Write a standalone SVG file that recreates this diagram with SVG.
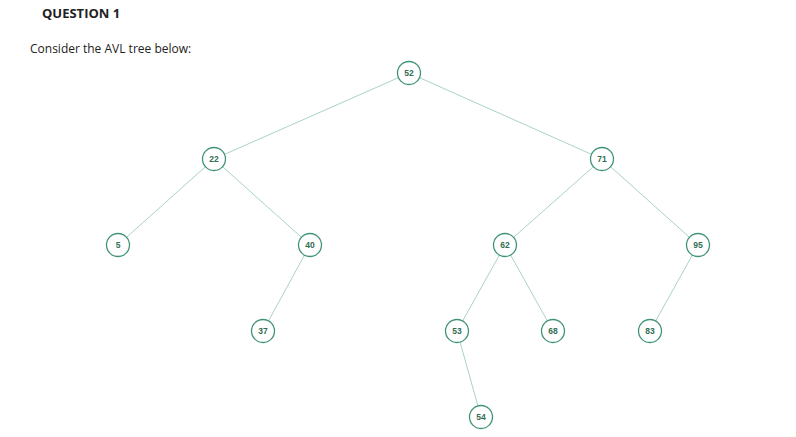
<svg xmlns="http://www.w3.org/2000/svg" width="796" height="437" viewBox="0 0 796 437">
<style>
.t{font-family:"Open Sans","Liberation Sans",sans-serif;fill:#222}
.n circle{fill:#fff;stroke:#3f9473;stroke-width:1.3}
.n text{font-family:"Liberation Sans",Arial,sans-serif;font-size:8.5px;font-weight:bold;fill:#2f6e52;text-anchor:middle;dominant-baseline:central}
#edges line{stroke:#a9d3c2;stroke-width:1}
</style>
<rect width="796" height="437" fill="#fff"/>
<text class="t" x="42" y="18" font-size="13" font-weight="bold">QUESTION 1</text>
<text class="t" x="30" y="53" font-size="12">Consider the AVL tree below:</text>
<g id="edges">
<line x1="409" y1="73" x2="214" y2="159"/>
<line x1="409" y1="73" x2="602" y2="159"/>
<line x1="214" y1="159" x2="118" y2="245"/>
<line x1="214" y1="159" x2="310" y2="245"/>
<line x1="602" y1="159" x2="505" y2="245"/>
<line x1="602" y1="159" x2="698" y2="245"/>
<line x1="310" y1="245" x2="263" y2="331"/>
<line x1="505" y1="245" x2="457" y2="331"/>
<line x1="505" y1="245" x2="553" y2="331"/>
<line x1="698" y1="245" x2="650" y2="331"/>
<line x1="457" y1="331" x2="481" y2="417"/>
</g>
<g id="n52" class="n"><circle cx="409" cy="73" r="11.5"/><text x="409" y="73">52</text></g>
<g id="n22" class="n"><circle cx="214" cy="159" r="11.5"/><text x="214" y="159">22</text></g>
<g id="n71" class="n"><circle cx="602" cy="159" r="11.5"/><text x="602" y="159">71</text></g>
<g id="n5" class="n"><circle cx="118" cy="245" r="11.5"/><text x="118" y="245">5</text></g>
<g id="n40" class="n"><circle cx="310" cy="245" r="11.5"/><text x="310" y="245">40</text></g>
<g id="n62" class="n"><circle cx="505" cy="245" r="11.5"/><text x="505" y="245">62</text></g>
<g id="n95" class="n"><circle cx="698" cy="245" r="11.5"/><text x="698" y="245">95</text></g>
<g id="n37" class="n"><circle cx="263" cy="331" r="11.5"/><text x="263" y="331">37</text></g>
<g id="n53" class="n"><circle cx="457" cy="331" r="11.5"/><text x="457" y="331">53</text></g>
<g id="n68" class="n"><circle cx="553" cy="331" r="11.5"/><text x="553" y="331">68</text></g>
<g id="n83" class="n"><circle cx="650" cy="331" r="11.5"/><text x="650" y="331">83</text></g>
<g id="n54" class="n"><circle cx="481" cy="417" r="11.5"/><text x="481" y="417">54</text></g>
</svg>
